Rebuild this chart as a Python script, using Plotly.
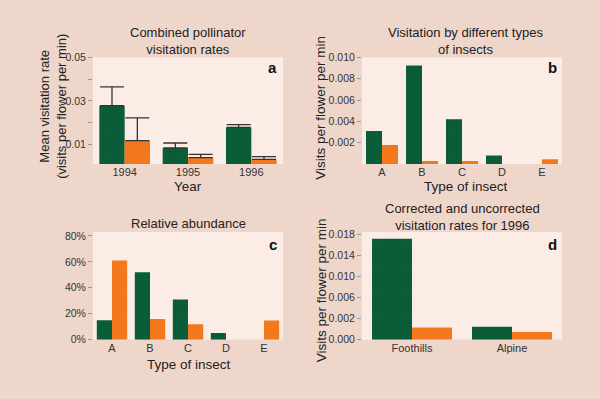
import plotly.graph_objects as go

GREEN = "#0b5e3a"
ORANGE = "#f47a1c"
PAPER = "#efd6ca"
PLOT = "#fbede6"
FONT = "Liberation Sans"

# Panel a
years = ["1994", "1995", "1996"]
a_green = [0.0278, 0.0083, 0.0178]
a_orange = [0.0117, 0.0039, 0.0031]
a_green_err = [0.0086, 0.0023, 0.0013]
a_orange_err = [0.0105, 0.0015, 0.0012]

# Panel b
insects = ["A", "B", "C", "D", "E"]
b_green = [0.0031, 0.00925, 0.0042, 0.0008, 0.0]
b_orange = [0.0018, 0.0003, 0.0003, 0.0, 0.00045]

# Panel c
c_green = [0.15, 0.52, 0.31, 0.052, 0.0]
c_orange = [0.61, 0.16, 0.118, 0.0, 0.147]

# Panel d (tick labels as printed; ticks evenly spaced in the original)
sites = ["Foothills", "Alpine"]
d_green = [0.01728, 0.0022]
d_orange = [0.0021, 0.0013]
d_ticks = [0.0, 0.0036, 0.0072, 0.0108, 0.0144, 0.018]
d_ticklabels = ["0.000", "0.002", "0.006", "0.010", "0.014", "0.018"]

W, H = 600, 399


def px_x(p):
    return p / W


def px_y(p):
    return 1 - p / H


fig = go.Figure()

err_style = dict(type="data", symmetric=False, color="#333333", thickness=1.3, width=12)
gpat = dict(shape=".", fgcolor="#06472a", size=3, solidity=0.2)
opat = dict(shape=".", fgcolor="#e9601a", size=3, solidity=0.2)

fig.add_trace(go.Bar(x=years, y=a_green, marker=dict(color=GREEN, pattern=gpat), xaxis="x", yaxis="y",
                     error_y=dict(array=a_green_err, arrayminus=[0, 0, 0], **err_style)))
fig.add_trace(go.Bar(x=years, y=a_orange, marker=dict(color=ORANGE, pattern=opat), xaxis="x", yaxis="y",
                     error_y=dict(array=a_orange_err, arrayminus=[0, 0, 0], **err_style)))
fig.add_trace(go.Bar(x=insects, y=b_green, marker=dict(color=GREEN, pattern=gpat), xaxis="x2", yaxis="y2"))
fig.add_trace(go.Bar(x=insects, y=b_orange, marker=dict(color=ORANGE, pattern=opat), xaxis="x2", yaxis="y2"))
fig.add_trace(go.Bar(x=insects, y=c_green, marker=dict(color=GREEN, pattern=gpat), xaxis="x3", yaxis="y3"))
fig.add_trace(go.Bar(x=insects, y=c_orange, marker=dict(color=ORANGE, pattern=opat), xaxis="x3", yaxis="y3"))
fig.add_trace(go.Bar(x=sites, y=d_green, marker=dict(color=GREEN, pattern=gpat), xaxis="x4", yaxis="y4"))
fig.add_trace(go.Bar(x=sites, y=d_orange, marker=dict(color=ORANGE, pattern=opat), xaxis="x4", yaxis="y4"))

for t in fig.data:
    t.marker.line.width = 0

dom_x_left = [px_x(93), px_x(283)]
dom_x_right = [px_x(362), px_x(562)]
dom_y_top = [px_y(163), px_y(53)]
dom_y_bot = [px_y(344), px_y(233)]

tickfont = dict(family=FONT, size=10.5, color="#333333")
xcommon = dict(type="category", showgrid=False, zeroline=False, showline=False,
               ticks="", tickfont=dict(family=FONT, size=11, color="#333333"))
ycommon = dict(showgrid=False, zeroline=False, showline=False, ticks="outside",
               ticklen=4, tickcolor="#999999", tickwidth=1, tickfont=tickfont)

fig.update_layout(
    width=W, height=H,
    margin=dict(l=0, r=0, t=0, b=0),
    paper_bgcolor=PAPER, plot_bgcolor=PLOT,
    showlegend=False, barmode="group", bargroupgap=0, bargap=0.2,
    font=dict(family=FONT, color="#222222"),
    xaxis=dict(domain=dom_x_left, anchor="y", **xcommon),
    yaxis=dict(domain=dom_y_top, anchor="x", range=[0.0009, 0.05],
               tickvals=[0.01, 0.02, 0.03, 0.04, 0.05],
               ticktext=["0.01", "", "0.03", "", "0.05"], **ycommon),
    xaxis2=dict(domain=dom_x_right, anchor="y2", **xcommon),
    yaxis2=dict(domain=dom_y_top, anchor="x2", range=[0, 0.010],
                tickvals=[0.002, 0.004, 0.006, 0.008, 0.010],
                ticktext=["0.002", "0.004", "0.006", "0.008", "0.010"], **ycommon),
    xaxis3=dict(domain=dom_x_left, anchor="y3", **xcommon),
    yaxis3=dict(domain=dom_y_bot, anchor="x3", range=[0, 0.83],
                tickvals=[0, 0.2, 0.4, 0.6, 0.8],
                ticktext=["0%", "20%", "40%", "60%", "80%"], **ycommon),
    xaxis4=dict(domain=dom_x_right, anchor="y4", **xcommon),
    yaxis4=dict(domain=dom_y_bot, anchor="x4", range=[0, 0.01845],
                tickvals=d_ticks, ticktext=d_ticklabels, **ycommon),
)


def ann(text, x, y, size=13, angle=0, bold=False, color="#222222"):
    if bold:
        text = "<b>" + text + "</b>"
    fig.add_annotation(text=text, x=px_x(x), y=px_y(y), xref="paper", yref="paper",
                       showarrow=False, textangle=angle, xanchor="center", yanchor="middle",
                       font=dict(family=FONT, size=size, color=color))


# titles
ann("Combined pollinator<br>visitation rates", 188, 36)
ann("Visitation by different types<br>of insects", 466, 36)
ann("Relative abundance", 188, 224)
ann("Corrected and uncorrected<br>visitation rates for 1996", 462, 218)

# axis titles
ann("Year", 188, 186, size=13.5)
ann("Type of insect", 466, 186, size=13.5)
ann("Type of insect", 189, 370, size=13.5)
ann("Mean visitation rate<br>(visits per flower per min)", 53, 104, size=13, angle=-90)
ann("Visits per flower per min", 321, 105, size=13.5, angle=-90)
ann("Visits per flower per min", 321, 293, size=13.5, angle=-90)

# panel letters
ann("a", 272, 63, size=15, bold=True, color="#111111")
ann("b", 552, 63, size=15, bold=True, color="#111111")
ann("c", 273, 246, size=15, bold=True, color="#111111")
ann("d", 552, 246, size=15, bold=True, color="#111111")

fig.write_html("out.html", config={"displayModeBar": False},
               post_script="document.body.style.margin='0px';document.body.style.padding='0px';")
